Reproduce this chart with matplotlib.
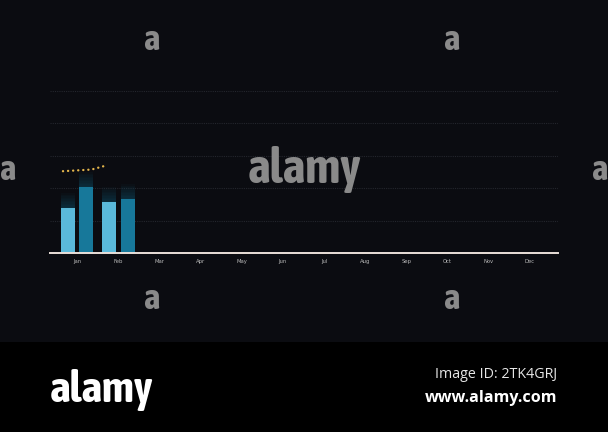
import matplotlib
matplotlib.use("Agg")
import matplotlib.pyplot as plt
from matplotlib import font_manager
import numpy as np

# data
months = ["Jan", "Feb", "Mar", "Apr", "May", "Jun", "Jul", "Aug", "Sep", "Oct", "Nov", "Dec"]
series_a = [27.8, 31.5]   # light bars, Jan-Feb only
series_b = [40.7, 33.3]   # dark bars, Jan-Feb only
line_x = [-0.34, 0.35, 0.68]   # dotted trend line (partially drawn), month units
line_y = [50.5, 51.5, 53.8]
grid_ticks = [0, 20, 40, 60, 80, 100]

BG = "#0b0c11"
LIGHT = "#5ab9da"
DARK = "#17789a"
GRAY_WM = "#8a8a8a"


def wide(w):
    return w if isinstance(w, int) else 400


# a narrow upright bold face for the logo text, if there is one
cands = []
for f in font_manager.fontManager.ttflist:
    narrowish = ("Condensed" in f.name or "Narrow" in f.name
                 or f.stretch in ("condensed", "semi-condensed", "extra-condensed", 75, 87, 62))
    if narrowish and wide(f.weight) >= 600 and f.style == "normal":
        cands.append(f)
if cands:
    pick = sorted(cands, key=lambda f: f.name)[0]
    WM = dict(family=[pick.name, "DejaVu Sans"], weight="bold", style="normal",
              stretch=pick.stretch)
    scale = 1.0
else:
    WM = dict(family=["DejaVu Sans"], weight="bold")
    scale = 0.8

fig = plt.figure(figsize=(6.08, 4.32), dpi=100)
fig.patch.set_facecolor(BG)

# black footer strip
footer = fig.add_axes([0, 0, 1, 90 / 432])
footer.set_facecolor("black")
footer.set_axis_off()
footer.add_patch(plt.Rectangle((0, 0), 1, 1, color="black", transform=footer.transAxes))

ax = fig.add_axes([50 / 608, 1 - 253 / 432, 508 / 608, 162 / 432])
ax.set_facecolor(BG)

x = np.arange(len(months))
w = 0.34
off = 0.23
xa = x[:len(series_a)] - off
xb = x[:len(series_b)] + off

# soft glow above each bar
n = 10
for i in range(n):
    h = 9.0 * (1 - i / n)
    ax.bar(xa, h, w, bottom=series_a, color=DARK, alpha=0.04, zorder=1)
    ax.bar(xb, h, w, bottom=series_b, color=DARK, alpha=0.04, zorder=1)

ax.bar(xa, series_a, w, color=LIGHT, zorder=2)
ax.bar(xb, series_b, w, color=DARK, zorder=2)

ax.plot(line_x, line_y, color="#e3b54c", lw=1.7, linestyle=(0, (0.05, 2.1)),
        dash_capstyle="round", zorder=3)

ax.set_xlim(-0.655, 11.68)
ax.set_ylim(0, 100)
ax.set_yticks(grid_ticks)
ax.set_yticklabels([])
ax.yaxis.grid(True, color="#24262d", lw=0.8, linestyle=(0, (1, 1)))
ax.set_axisbelow(True)
ax.set_xticks(x)
ax.set_xticklabels(months, fontsize=3.8, color="#b8b8b8")
ax.tick_params(length=0, pad=4)
for s in ["top", "left", "right"]:
    ax.spines[s].set_visible(False)
ax.spines["bottom"].set_color("#eadfd9")
ax.spines["bottom"].set_linewidth(1.4)

# watermark overlay
fig.text(304 / 608, 1 - 183 / 432, "alamy", fontsize=35 * scale, color=GRAY_WM,
         ha="center", va="baseline", zorder=10, **WM)
for px, py in [(152, 50), (452, 50), (152, 309), (452, 309), (8, 180), (600, 180)]:
    fig.text(px / 608, 1 - py / 432, "a", fontsize=25 * scale, color=GRAY_WM,
             ha="center", va="baseline", zorder=10, **WM)

fig.text(50 / 608, 1 - 402 / 432, "alamy", fontsize=32 * scale, color="white",
         ha="left", va="baseline", **WM)
fig.text(557 / 608, 1 - 375 / 432, "Image ID: 2TK4GRJ", fontsize=10.3, color="#e6e6e6",
         family=["Open Sans", "DejaVu Sans"], ha="right", va="center")
fig.text(557 / 608, 1 - 398 / 432, "www.alamy.com", fontsize=11.6, color="white",
         family=["Open Sans", "DejaVu Sans"], weight="bold", ha="right", va="center")

fig.savefig("out.png", dpi=100, facecolor=fig.get_facecolor())
